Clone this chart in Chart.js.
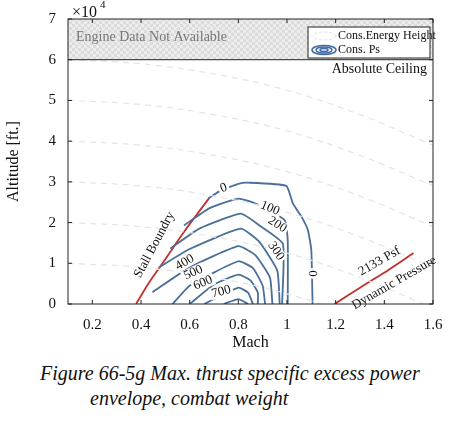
<!DOCTYPE html>
<html>
<head>
<meta charset="utf-8">
<script src="https://cdn.jsdelivr.net/npm/chart.js@4.4.0/dist/chart.umd.min.js"></script>
<style>
  body { margin: 0; background: #fff; }
  #wrap { position: relative; width: 474px; height: 352px; }
  .cap { font-family: "Liberation Serif", serif; font-style: italic; font-size: 20px; color: #111; line-height: 25px; margin-top: 9px; padding-left: 40px; }
</style>
</head>
<body>
<div id="wrap"><canvas id="envelope"></canvas></div>
<div class="cap">Figure 66-5g Max. thrust specific excess power<br><span style="padding-left:50px">envelope, combat weight</span></div>
<script>
// Mach / altitude (ft)
const psLevels = [0, 100, 200, 300, 400, 500, 600, 700, 800];
const psMach = [
  [0.677, 0.72, 0.80, 0.84, 0.997, 1.024, 1.06, 1.086, 1.10, 1.105],
  [0.577, 0.68, 0.80, 0.866, 0.99, 1.003, 1.003],
  [0.52, 0.64, 0.81, 0.887, 0.983, 0.98],
  [0.474, 0.60, 0.81, 0.887, 0.96, 0.97],
  [0.447, 0.60, 0.80, 0.87, 0.93, 0.94],
  [0.53, 0.60, 0.80, 0.86, 0.90, 0.91],
  [0.60, 0.70, 0.80, 0.85, 0.88, 0.88],
  [0.66, 0.80, 0.84, 0.86],
  [0.74, 0.80, 0.84]
];
const psAlt = [
  [25900, 27600, 29500, 29800, 29000, 24700, 21400, 18100, 13200, 0],
  [19300, 23500, 25900, 24800, 20600, 15600, 0],
  [13600, 18500, 22200, 19300, 14800, 0],
  [9000, 13500, 18500, 15200, 8200, 0],
  [2900, 9000, 14200, 12000, 6500, 0],
  [0, 4500, 10500, 8800, 4500, 0],
  [0, 4800, 7200, 5800, 2800, 0],
  [0, 4000, 2800, 0],
  [0, 1200, 0]
];
const stallMach = [0.38, 0.43, 0.50, 0.58, 0.68];
const stallAlt = [0, 5000, 11000, 18000, 26000];
const qMach = [1.196, 1.30, 1.42, 1.52];
const qAlt = [0, 4000, 8500, 12500];
const ehMach = [0.1, 0.4, 0.7, 1.0, 1.3, 1.6];
const ehAlt = [
  [60000, 59000, 56500, 52500, 46500, 39000],
  [50000, 49000, 46500, 42500, 36500, 29000],
  [40000, 39000, 36500, 32500, 26500, 19000],
  [30000, 29000, 26500, 22500, 16500, 9000],
  [20000, 19000, 16500, 12500, 6500, -1000],
  [10000, 9000, 6500, 2500, -3500, -11000]
];
const xTicks = [0.2, 0.4, 0.6, 0.8, 1.0, 1.2, 1.4, 1.6];
const yTicks = [0, 10000, 20000, 30000, 40000, 50000, 60000, 70000];
// contour label: text, mach, alt, angle (deg)
const psLabels = [
  ['0', 0.74, 28500, -20], ['100', 0.93, 23500, 22], ['200', 0.96, 19500, 32],
  ['300', 0.955, 13000, 55], ['0', 1.105, 7500, 90], ['400', 0.58, 10200, -30],
  ['500', 0.615, 7700, -25], ['600', 0.655, 5200, -22], ['700', 0.73, 3000, -15]
];

const serif = '"Liberation Serif", "DejaVu Serif", serif';
const pat = (() => {
  const c = document.createElement('canvas'); c.width = 6; c.height = 6;
  const g = c.getContext('2d');
  g.fillStyle = '#ececec'; g.fillRect(0, 0, 6, 6);
  g.fillStyle = '#dcdcdc'; g.fillRect(0, 0, 3, 3); g.fillRect(3, 3, 3, 3);
  return c;
})();

const datasets = [];
ehAlt.forEach(a => datasets.push({
  data: ehMach.map((m, i) => ({x: m, y: a[i]})), borderColor: '#e4e4e4',
  borderWidth: 1.2, borderDash: [6, 5], pointRadius: 0, tension: 0.4
}));
psMach.forEach((ms, k) => datasets.push({
  data: ms.map((m, i) => ({x: m, y: psAlt[k][i]})), borderColor: '#4a6f98',
  borderWidth: 1.8, pointRadius: 0, tension: 0.15
}));
datasets.push({data: stallMach.map((m, i) => ({x: m, y: stallAlt[i]})), borderColor: '#c0302c', borderWidth: 1.8, pointRadius: 0, tension: 0.3});
datasets.push({data: qMach.map((m, i) => ({x: m, y: qAlt[i]})), borderColor: '#c0302c', borderWidth: 1.8, pointRadius: 0, tension: 0.3});

const deco = {
  id: 'deco',
  beforeDatasetsDraw(chart) {
    const {ctx, chartArea: a, scales: {x, y}} = chart;
    ctx.save();
    ctx.fillStyle = ctx.createPattern(pat, 'repeat');
    ctx.fillRect(a.left, y.getPixelForValue(70000), a.right - a.left, y.getPixelForValue(60000) - y.getPixelForValue(70000));
    ctx.restore();
  },
  afterDatasetsDraw(chart) {
    const {ctx, chartArea: a, scales: {x, y}} = chart;
    ctx.save();
    ctx.font = '13px ' + serif; ctx.textAlign = 'center'; ctx.textBaseline = 'middle';
    psLabels.forEach(([t, m, h, ang]) => {
      ctx.save();
      ctx.translate(x.getPixelForValue(m), y.getPixelForValue(h));
      ctx.rotate(ang * Math.PI / 180);
      const w = ctx.measureText(t).width + 4;
      ctx.fillStyle = '#fff'; ctx.fillRect(-w / 2, -6, w, 12);
      ctx.fillStyle = '#111'; ctx.fillText(t, 0, 0);
      ctx.restore();
    });
    const rot = (t, m, h, ang, size) => {
      ctx.save(); ctx.font = size + 'px ' + serif; ctx.fillStyle = '#111';
      ctx.translate(x.getPixelForValue(m), y.getPixelForValue(h));
      ctx.rotate(ang * Math.PI / 180); ctx.fillText(t, 0, 0); ctx.restore();
    };
    rot('Stall Boundry', 0.455, 14500, -62, 13);
    rot('2133 Psf', 1.38, 10500, -30, 13);
    rot('Dynamic Pressure', 1.44, 5200, -30, 13);
    // frame + inner ticks
    ctx.strokeStyle = '#222'; ctx.lineWidth = 1;
    ctx.strokeRect(a.left, a.top, a.right - a.left, a.bottom - a.top);
    ctx.beginPath();
    ctx.moveTo(a.left, y.getPixelForValue(60000)); ctx.lineTo(a.right, y.getPixelForValue(60000));
    xTicks.forEach(v => { const p = x.getPixelForValue(v);
      ctx.moveTo(p, a.bottom); ctx.lineTo(p, a.bottom - 4); ctx.moveTo(p, a.top); ctx.lineTo(p, a.top + 4); });
    yTicks.forEach(v => { const p = y.getPixelForValue(v);
      ctx.moveTo(a.left, p); ctx.lineTo(a.left + 4, p); ctx.moveTo(a.right, p); ctx.lineTo(a.right - 4, p); });
    ctx.stroke();
    ctx.textAlign = 'left';
    ctx.font = '14px ' + serif; ctx.fillStyle = '#777';
    ctx.fillText('Engine Data Not Available', a.left + 8, y.getPixelForValue(65600));
    ctx.fillStyle = '#111'; ctx.textAlign = 'right';
    ctx.fillText('Absolute Ceiling', a.right - 6, y.getPixelForValue(57700));
    // legend
    const lx = a.right - 125, ly = a.top + 8;
    ctx.fillStyle = '#fff'; ctx.fillRect(lx, ly, 122, 31); ctx.strokeRect(lx, ly, 122, 31);
    ctx.font = '12px ' + serif; ctx.textAlign = 'left'; ctx.fillStyle = '#111';
    ctx.fillText('Cons.Energy Height', lx + 30, ly + 9);
    ctx.fillText('Cons. Ps', lx + 30, ly + 23);
    ctx.strokeStyle = '#e0e0e0'; ctx.setLineDash([3, 2]);
    ctx.beginPath(); ctx.ellipse(lx + 16, ly + 9, 12, 4, 0, 0, 2 * Math.PI); ctx.stroke();
    ctx.setLineDash([]); ctx.strokeStyle = '#3d6aa6'; ctx.lineWidth = 1.5;
    [12, 8, 4].forEach(r => { ctx.beginPath(); ctx.ellipse(lx + 16, ly + 23, r, r / 2.6, 0, 0, 2 * Math.PI); ctx.stroke(); });
    // exponent
    ctx.font = '16px ' + serif; ctx.fillStyle = '#111';
    ctx.fillText('\u00d710', a.left + 4, a.top - 6);
    ctx.font = '11px ' + serif; ctx.fillText('4', a.left + 32, a.top - 14);
    ctx.restore();
  }
};

new Chart(document.getElementById('envelope'), {
  type: 'line',
  data: {datasets},
  options: {
    responsive: true, maintainAspectRatio: false, animation: false,
    layout: {padding: {top: 19, right: 41, left: 0, bottom: 0}},
    plugins: {legend: {display: false}, tooltip: {enabled: false}},
    scales: {
      x: {
        type: 'linear', min: 0.1, max: 1.6,
        afterBuildTicks: s => { s.ticks = xTicks.map(v => ({value: v})); },
        afterFit: s => { s.height = 48; },
        grid: {display: false}, border: {display: false},
        ticks: {color: '#111', font: {family: serif, size: 15}, padding: 4,
          callback: v => String(Math.round(v * 10) / 10), maxRotation: 0},
        title: {display: true, text: 'Mach', color: '#111', font: {family: serif, size: 16}, padding: {top: 0, bottom: 0}}
      },
      y: {
        min: 0, max: 70000,
        afterBuildTicks: s => { s.ticks = yTicks.map(v => ({value: v})); },
        afterFit: s => { s.width = 68; },
        grid: {display: false}, border: {display: false},
        ticks: {color: '#111', font: {family: serif, size: 15}, padding: 4, callback: v => String(v / 10000)},
        title: {display: true, text: 'Altitude [ft.]', color: '#111', font: {family: serif, size: 16}, padding: 4}
      }
    }
  },
  plugins: [deco]
});
</script>
</body>
</html>
